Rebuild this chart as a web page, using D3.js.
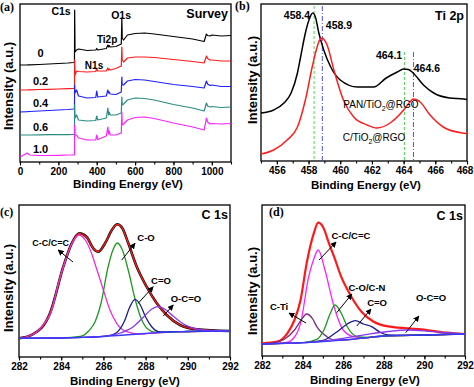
<!DOCTYPE html>
<html>
<head>
<meta charset="utf-8">
<script src="https://cdnjs.cloudflare.com/ajax/libs/d3/7.8.5/d3.min.js"></script>
<style>
  body { margin: 0; background: #fff; }
  svg text { font-family: Arial, 'Liberation Sans', sans-serif; }
</style>
</head>
<body>
<svg id="chart" width="474" height="387"></svg>
<script>
// (a) survey spectra, intensity in arbitrary units
var surveyEnergy = [0, 38, 50, 100, 150, 200, 250, 280, 284, 285, 287, 295, 305, 350, 395, 400, 405, 450, 458, 462, 465, 470, 500, 528, 531, 533, 540, 560, 600, 650, 700, 800, 900, 960, 972, 978, 990, 1000, 1050, 1100]
var survey00 = [97, 97.1, 97.2, 97.5, 98, 98.5, 99, 99.5, 100, 152, 110, 112, 113, 111.5, 112, 113.5, 112, 113.5, 117, 115, 116.5, 115, 115.5, 118, 144, 124, 122, 127, 128.5, 129, 128, 125.5, 123, 120.5, 128, 126.5, 126, 127, 126, 126.5]
var survey02 = [72, 72.1, 72.2, 72.5, 72.7, 73, 73.3, 73.5, 74, 102, 87, 91, 90.5, 90, 90.5, 93.5, 91, 91, 94, 92, 93, 92, 93.5, 96, 115, 102, 100, 104, 105, 105, 104.5, 102.5, 100.5, 99, 106, 103.5, 102, 102, 101, 101]
var survey04 = [50, 50.3, 50.5, 51, 51.5, 52, 52.5, 53, 53.5, 77, 69, 72, 66, 64, 64.5, 71, 65, 66, 72, 69, 70, 68, 67.5, 70, 85, 77, 77, 81, 82.5, 82, 80.5, 77.5, 75.5, 74, 81, 78, 76.5, 77, 75.5, 75.5]
var survey06 = [27, 27, 27, 27.2, 27.3, 27.3, 27.4, 27.5, 27.5, 57, 44, 47, 42, 41, 41.5, 46, 42, 44, 54, 47, 50, 47, 47, 49, 65, 57, 58, 62, 64, 63.5, 62, 57.5, 54, 51, 59, 56, 55, 55.5, 54.5, 55]
var survey10 = [5, 9, 7, 6.5, 6.5, 6.7, 7, 7, 7, 37, 27, 27, 24, 22, 22, 27, 22.5, 26, 35, 28, 31, 27, 27, 29, 50, 37, 38, 42, 44.5, 45, 43.5, 39, 35, 32, 44, 40, 38, 38.5, 38, 38.5]
var surveyNames = ['0', '0.2', '0.4', '0.6', '1.0']
var surveyTicks = [0, 200, 400, 600, 800, 1000]

// (b) Ti 2p
var tiBlackE = [455, 455.8, 456.45, 456.9, 457.3, 457.5, 457.8, 458.05, 458.27, 458.45, 458.65, 458.96, 459.4, 460, 461.1, 462.1, 462.9, 463.6, 464, 464.3, 464.6, 465.25, 465.9, 466.9, 467.8, 468]
var tiBlack = [48, 51, 58, 68, 88, 104, 128, 142, 148, 143, 128, 111, 94, 81, 74, 74, 83, 89, 92, 91.5, 88, 76, 68, 63, 62, 61.5]
var tiRedE = [455, 455.8, 456.65, 457.3, 457.8, 458.23, 458.54, 458.7, 458.86, 459.0, 459.17, 459.6, 460.2, 460.85, 461.7, 462.3, 463.15, 464, 464.35, 464.6, 464.85, 465.04, 465.67, 466.5, 467.7, 468]
var tiRed = [7, 11, 21, 34, 61, 94, 114, 121, 123, 121, 116, 91, 61, 44, 36, 33, 38, 51, 58, 62, 61, 59, 46, 34, 28, 27.5]
var tiPeakE = [458.35, 458.87, 464.05, 464.62]
var tiPeakLabels = ['458.4', '458.9', '464.1', '464.6']
var tiTicks = [456, 458, 460, 462, 464, 466, 468]

// (c) C 1s, PAN/TiO2@RGO
var c1Ticks = [282, 284, 286, 288, 290, 292]
var cBaseE = [282, 283, 284, 285, 286, 287, 288, 289, 290, 291, 292]
var cBase = [18.7, 18.8, 19, 19.6, 20.5, 22, 23.5, 25, 25.5, 25.8, 26]
var cEnvE = [282, 282.68, 283.47, 284.1, 284.5, 284.86, 285.2, 285.52, 285.76, 286.08, 286.4, 286.66, 286.9, 287.18, 287.58, 288.05, 288.53, 289, 289.63, 290.42, 292]
var cEnv = [18.7, 23, 43.7, 90.3, 113.7, 123.7, 120.3, 108.7, 105.3, 113.7, 127, 132.7, 128.7, 113.7, 90.3, 70.3, 53.7, 42, 32, 27.7, 26]
var cCCE = [282, 282.7, 283.2, 283.5, 283.9, 284.1, 284.5, 284.85, 285.2, 285.45, 285.68, 286.0, 286.31, 286.63, 287.1, 287.7, 288.5, 289.5, 290.5, 292]
var cCC = [18.7, 23, 33.7, 43.7, 76, 90, 113, 122, 115, 103, 88, 67, 47, 33.7, 25.3, 23, 24, 25.2, 25.6, 26]
var cCOE = [282, 284, 284.9, 285.3, 285.6, 285.9, 286.2, 286.45, 286.66, 286.9, 287.2, 287.5, 287.8, 288.1, 288.5, 289, 290, 292]
var cCO = [18.7, 19, 20.5, 26, 35, 55, 88, 107, 114, 107, 85, 58, 38, 28, 24.5, 25, 25.5, 26]
var cCdOE = [282, 285, 286.2, 286.6, 287, 287.25, 287.5, 287.75, 288, 288.3, 288.7, 289.2, 290, 292]
var cCdO = [18.7, 19.6, 21.2, 24, 36, 50, 57.7, 52, 40, 30, 25, 25.3, 25.5, 26]
var cOCOE = [282, 285, 286, 286.8, 287.4, 287.9, 288.3, 288.6, 288.9, 289.3, 289.8, 290.4, 291, 292]
var cOCO = [18.7, 19.6, 20.7, 24, 30, 40, 48, 50.3, 48, 41, 33, 28, 26.5, 26]

// (d) C 1s, C/TiO2@RGO
var dBaseE = [282, 284, 285, 286, 287, 288, 289, 290, 292]
var dBase = [12, 13.3, 14.3, 16, 18, 20, 20.7, 21, 22]
var dEnvE = [282, 282.75, 283.25, 283.6, 283.9, 284.2, 284.55, 284.77, 285, 285.3, 285.55, 285.9, 286.4, 286.9, 287.5, 288.3, 289.15, 290.1, 291.1, 292]
var dEnv = [12.7, 14.3, 22.7, 36, 56, 92.7, 122.7, 133.3, 129.3, 112.7, 99.3, 79.3, 59.3, 44.3, 34.3, 29.3, 27.7, 26, 23.3, 22]
var dCCE = [282, 283.2, 283.6, 283.9, 284.3, 284.55, 284.77, 285.1, 285.55, 286, 286.5, 287, 288, 290, 292]
var dCC = [12, 13.5, 19, 32.7, 79.3, 97, 106, 86, 49.3, 26, 19.3, 18, 20, 21, 22]
var dCTiE = [282, 282.5, 283.1, 283.6, 283.9, 284.2, 284.5, 284.7, 285.2, 285.6, 286, 287, 288, 290, 292]
var dCTi = [12, 13, 16.7, 26, 35, 42, 37, 29.3, 19.3, 16, 16, 18, 20, 21, 22]
var dCOE = [282, 284, 284.7, 285.05, 285.35, 285.6, 285.9, 286.2, 286.7, 287.2, 288, 290, 292]
var dCO = [12, 13.3, 16.7, 26, 42, 51, 43, 29.3, 19.3, 18.5, 20, 21, 22]
var dCdOE = [282, 284, 285, 285.7, 286.2, 286.6, 287, 287.4, 287.8, 288.2, 288.8, 290, 292]
var dCdO = [12, 13.3, 15.5, 24.3, 32, 35.3, 32, 29.3, 24, 21, 20.7, 21, 22]
var dOCOE = [282, 284, 286, 287.2, 288.2, 289.2, 290.4, 291.2, 292]
var dOCO = [12, 13.3, 17.7, 21.7, 24.5, 26, 24.3, 23.3, 22]

var svg = d3.select('#chart')

svg.append('defs').append('marker')
  .attr('id', 'arrowhead')
  .attr('viewBox', '0 0 10 10')
  .attr('refX', 9)
  .attr('refY', 5)
  .attr('markerUnits', 'userSpaceOnUse')
  .attr('markerWidth', 6)
  .attr('markerHeight', 6)
  .attr('orient', 'auto')
  .append('path')
    .attr('d', 'M0,0L10,5L0,10z')
    .attr('fill', '#000')

function makePanel (box, domain, major, minorStep) {
  var x = d3.scaleLinear().domain(domain).range([box.l, box.r])
  var y = d3.scaleLinear().domain([0, box.b - box.t]).range([box.b, box.t])
  var g = svg.append('g')

  var minor = d3.range(domain[0], domain[1] + 1e-6, minorStep)
  g.append('g')
    .attr('transform', 'translate(0,' + box.b + ')')
    .call(d3.axisBottom(x).tickValues(minor).tickSize(2.5).tickFormat(''))
  var ax = g.append('g')
    .attr('transform', 'translate(0,' + box.b + ')')
    .call(d3.axisBottom(x).tickValues(major).tickSize(3.5).tickPadding(2).tickFormat(d3.format('d')))
  g.selectAll('.domain').remove()
  g.selectAll('.tick line').attr('stroke', '#000').attr('stroke-width', 1.1)
  ax.selectAll('text')
    .attr('font-family', 'Arial, "Liberation Sans", sans-serif')
    .attr('font-size', 10)
    .attr('font-weight', 'bold')
    .attr('fill', '#000')
  // keep the last label inside the picture
  ax.selectAll('text')
    .filter(function (d) { return d === domain[1] && box.r > 466 })
    .attr('dx', -2.5)

  g.append('rect')
    .attr('x', box.l)
    .attr('y', box.t)
    .attr('width', box.r - box.l)
    .attr('height', box.b - box.t)
    .attr('fill', 'none')
    .attr('stroke', '#000')
    .attr('stroke-width', 1.3)

  return { g: g, x: x, y: y, box: box }
}

function drawLine (p, xs, ys, color, width, curve) {
  var line = d3.line()
    .x(function (d) { return p.x(d[0]) })
    .y(function (d) { return p.y(d[1]) })
    .curve(curve || d3.curveLinear)
  return p.g.append('path')
    .datum(d3.zip(xs, ys))
    .attr('d', line)
    .attr('fill', 'none')
    .attr('stroke', color)
    .attr('stroke-width', width)
    .attr('stroke-linejoin', 'round')
}

function note (p, e, v, text, size, weight) {
  return p.g.append('text')
    .attr('x', p.x(e))
    .attr('y', p.y(v))
    .attr('text-anchor', 'middle')
    .attr('font-size', size)
    .attr('font-weight', weight || 'bold')
    .attr('fill', '#000')
    .text(text)
}

function arrow (p, from, to) {
  p.g.append('line')
    .attr('x1', p.x(from[0]))
    .attr('y1', p.y(from[1]))
    .attr('x2', p.x(to[0]))
    .attr('y2', p.y(to[1]))
    .attr('stroke', '#000')
    .attr('stroke-width', 1)
    .attr('marker-end', 'url(#arrowhead)')
}

function frameText (x, y, text, size, anchor, extra) {
  var t = svg.append('text')
    .attr('x', x)
    .attr('y', y)
    .attr('text-anchor', anchor)
    .attr('font-size', size)
    .attr('font-weight', 'bold')
    .attr('fill', '#000')
    .text(text)
  if (extra) extra(t)
  return t
}

function yTitle (x, y) {
  frameText(x, y, 'Intensity (a.u.)', 13, 'middle', function (t) {
    t.attr('transform', 'rotate(-90,' + x + ',' + y + ')')
  })
}

function letter (x, y, text) {
  frameText(x, y, text, 12, 'start', function (t) {
    t.style('font-family', '"Liberation Serif", "DejaVu Serif", serif')
  })
}

// Panel (a)
var pa = makePanel({ l: 20, r: 231, t: 4, b: 162 }, [0, 1100], surveyTicks, 100)
var surveySeries = [survey00, survey02, survey04, survey06, survey10]
var surveyColors = ['#000000', '#ff1a1a', '#2020ff', '#2a8c80', '#ff22ff']
var surveyLabelY = [105, 77, 55, 31, 9]
surveySeries.forEach(function (s, i) {
  drawLine(pa, surveyEnergy, s, surveyColors[i], 1.2)
  note(pa, 107, surveyLabelY[i], surveyNames[i], 11)
})
note(pa, 214, 147, 'C1s', 10.5)
note(pa, 527, 143, 'O1s', 10.5)
note(pa, 454, 119, 'Ti2p', 10)
note(pa, 386, 93, 'N1s', 10)
frameText(228, 18, 'Survey', 12.5, 'end')
letter(0, 11, '(a)')
yTitle(12.5, 86)
frameText(128, 188, 'Binding Energy (eV)', 11.5, 'middle')

// Panel (b)
var pb = makePanel({ l: 261, r: 467, t: 4, b: 161 }, [455, 468], tiTicks, 1)
var peakColors = ['#4fd84f', '#5050d8', '#4fd84f', '#5050d8']
var peakDash = ['3,2', '5,2,1,2', '3,2', '5,2,1,2']
var peakTop = [155, 155, 109, 109]
var peakLabelPos = [[457.27, 142], [459.92, 132], [463.08, 102], [465.47, 89]]
tiPeakE.forEach(function (e, i) {
  pb.g.append('line')
    .attr('x1', pb.x(e))
    .attr('x2', pb.x(e))
    .attr('y1', pb.y(peakTop[i]))
    .attr('y2', pb.y(0))
    .attr('stroke', peakColors[i])
    .attr('stroke-width', 1)
    .attr('stroke-dasharray', peakDash[i])
  note(pb, peakLabelPos[i][0], peakLabelPos[i][1], tiPeakLabels[i], 10.5)
})
drawLine(pb, tiBlackE, tiBlack, '#000', 1.5, d3.curveMonotoneX)
drawLine(pb, tiRedE, tiRed, '#ff1e1e', 1.5, d3.curveMonotoneX)

function sampleName (p, e, v, prefix) {
  var t = note(p, e, v, prefix + 'TiO', 10, 'normal')
  t.append('tspan').attr('font-size', 7).attr('dy', 2.5).text('2')
  t.append('tspan').attr('dy', -2.5).text('@RGO')
}
sampleName(pb, 462.57, 53, 'PAN/')
sampleName(pb, 462.13, 20, 'C/')
frameText(464, 20, 'Ti 2p', 12.5, 'end')
letter(235, 10, '(b)')
yTitle(257, 80)
frameText(366, 189, 'Binding Energy (eV)', 11.5, 'middle')

// Panel (c)
var pc = makePanel({ l: 19, r: 230, t: 205, b: 357 }, [282, 292], c1Ticks, 1)
drawLine(pc, cEnvE, cEnv, '#111', 2.6, d3.curveMonotoneX)
drawLine(pc, cEnvE, cEnv, '#ff1a1a', 1.3, d3.curveMonotoneX)
drawLine(pc, cCCE, cCC, '#ec2fd6', 1.3, d3.curveMonotoneX)
drawLine(pc, cCOE, cCO, '#1f981f', 1.3, d3.curveMonotoneX)
drawLine(pc, cCdOE, cCdO, '#1c1c90', 1.3, d3.curveMonotoneX)
drawLine(pc, cOCOE, cOCO, '#8a38ee', 1.3, d3.curveMonotoneX)
drawLine(pc, cBaseE, cBase, '#3a3aff', 1.3, d3.curveMonotoneX)
note(pc, 283.5, 111, 'C-C/C=C', 9)
arrow(pc, [284.56, 95], [283.85, 107])
note(pc, 288.02, 116.5, 'C-O', 9.5)
arrow(pc, [286.87, 97], [287.5, 113.7])
note(pc, 288.73, 73, 'C=O', 9.5)
arrow(pc, [287.65, 53.7], [288.36, 70.3])
note(pc, 289.91, 55, 'O-C=O', 9.5)
arrow(pc, [288.84, 41], [289.31, 52])
frameText(228, 219, 'C 1s', 12.5, 'end')
letter(0, 216, '(c)')
yTitle(12.5, 288)
frameText(125, 385, 'Binding Energy (eV)', 11.5, 'middle')

// Panel (d)
var pd = makePanel({ l: 262, r: 465, t: 205, b: 356 }, [282, 292], c1Ticks, 1)
drawLine(pd, dEnvE, dEnv, '#ff1a1a', 2.2, d3.curveMonotoneX)
drawLine(pd, dCCE, dCC, '#ff22ff', 1.3, d3.curveMonotoneX)
drawLine(pd, dCTiE, dCTi, '#7c2a7c', 1.3, d3.curveMonotoneX)
drawLine(pd, dCOE, dCO, '#1f981f', 1.3, d3.curveMonotoneX)
drawLine(pd, dCdOE, dCdO, '#1c1c90', 1.3, d3.curveMonotoneX)
drawLine(pd, dOCOE, dOCO, '#8a38ee', 1.3, d3.curveMonotoneX)
drawLine(pd, dBaseE, dBase, '#3a3aff', 1.3, d3.curveMonotoneX)
note(pd, 286.38, 117, 'C-C/C=C', 9.5)
arrow(pd, [284.81, 96], [285.65, 114])
note(pd, 282.84, 46, 'C-Ti', 9.5)
arrow(pd, [284.17, 33], [283.33, 43])
note(pd, 287.17, 65, 'C-O/C-N', 9.5)
arrow(pd, [285.68, 43.3], [286.43, 62])
note(pd, 287.67, 50, 'C=O', 9.5)
arrow(pd, [286.67, 30], [287.37, 47])
note(pd, 290.33, 55, 'O-C=O', 9.5)
arrow(pd, [289.08, 23.3], [289.73, 40])
frameText(463, 220, 'C 1s', 12.5, 'end')
letter(269, 216, '(d)')
yTitle(257, 291)
frameText(365, 384, 'Binding Energy (eV)', 11.5, 'middle')
</script>
</body>
</html>
